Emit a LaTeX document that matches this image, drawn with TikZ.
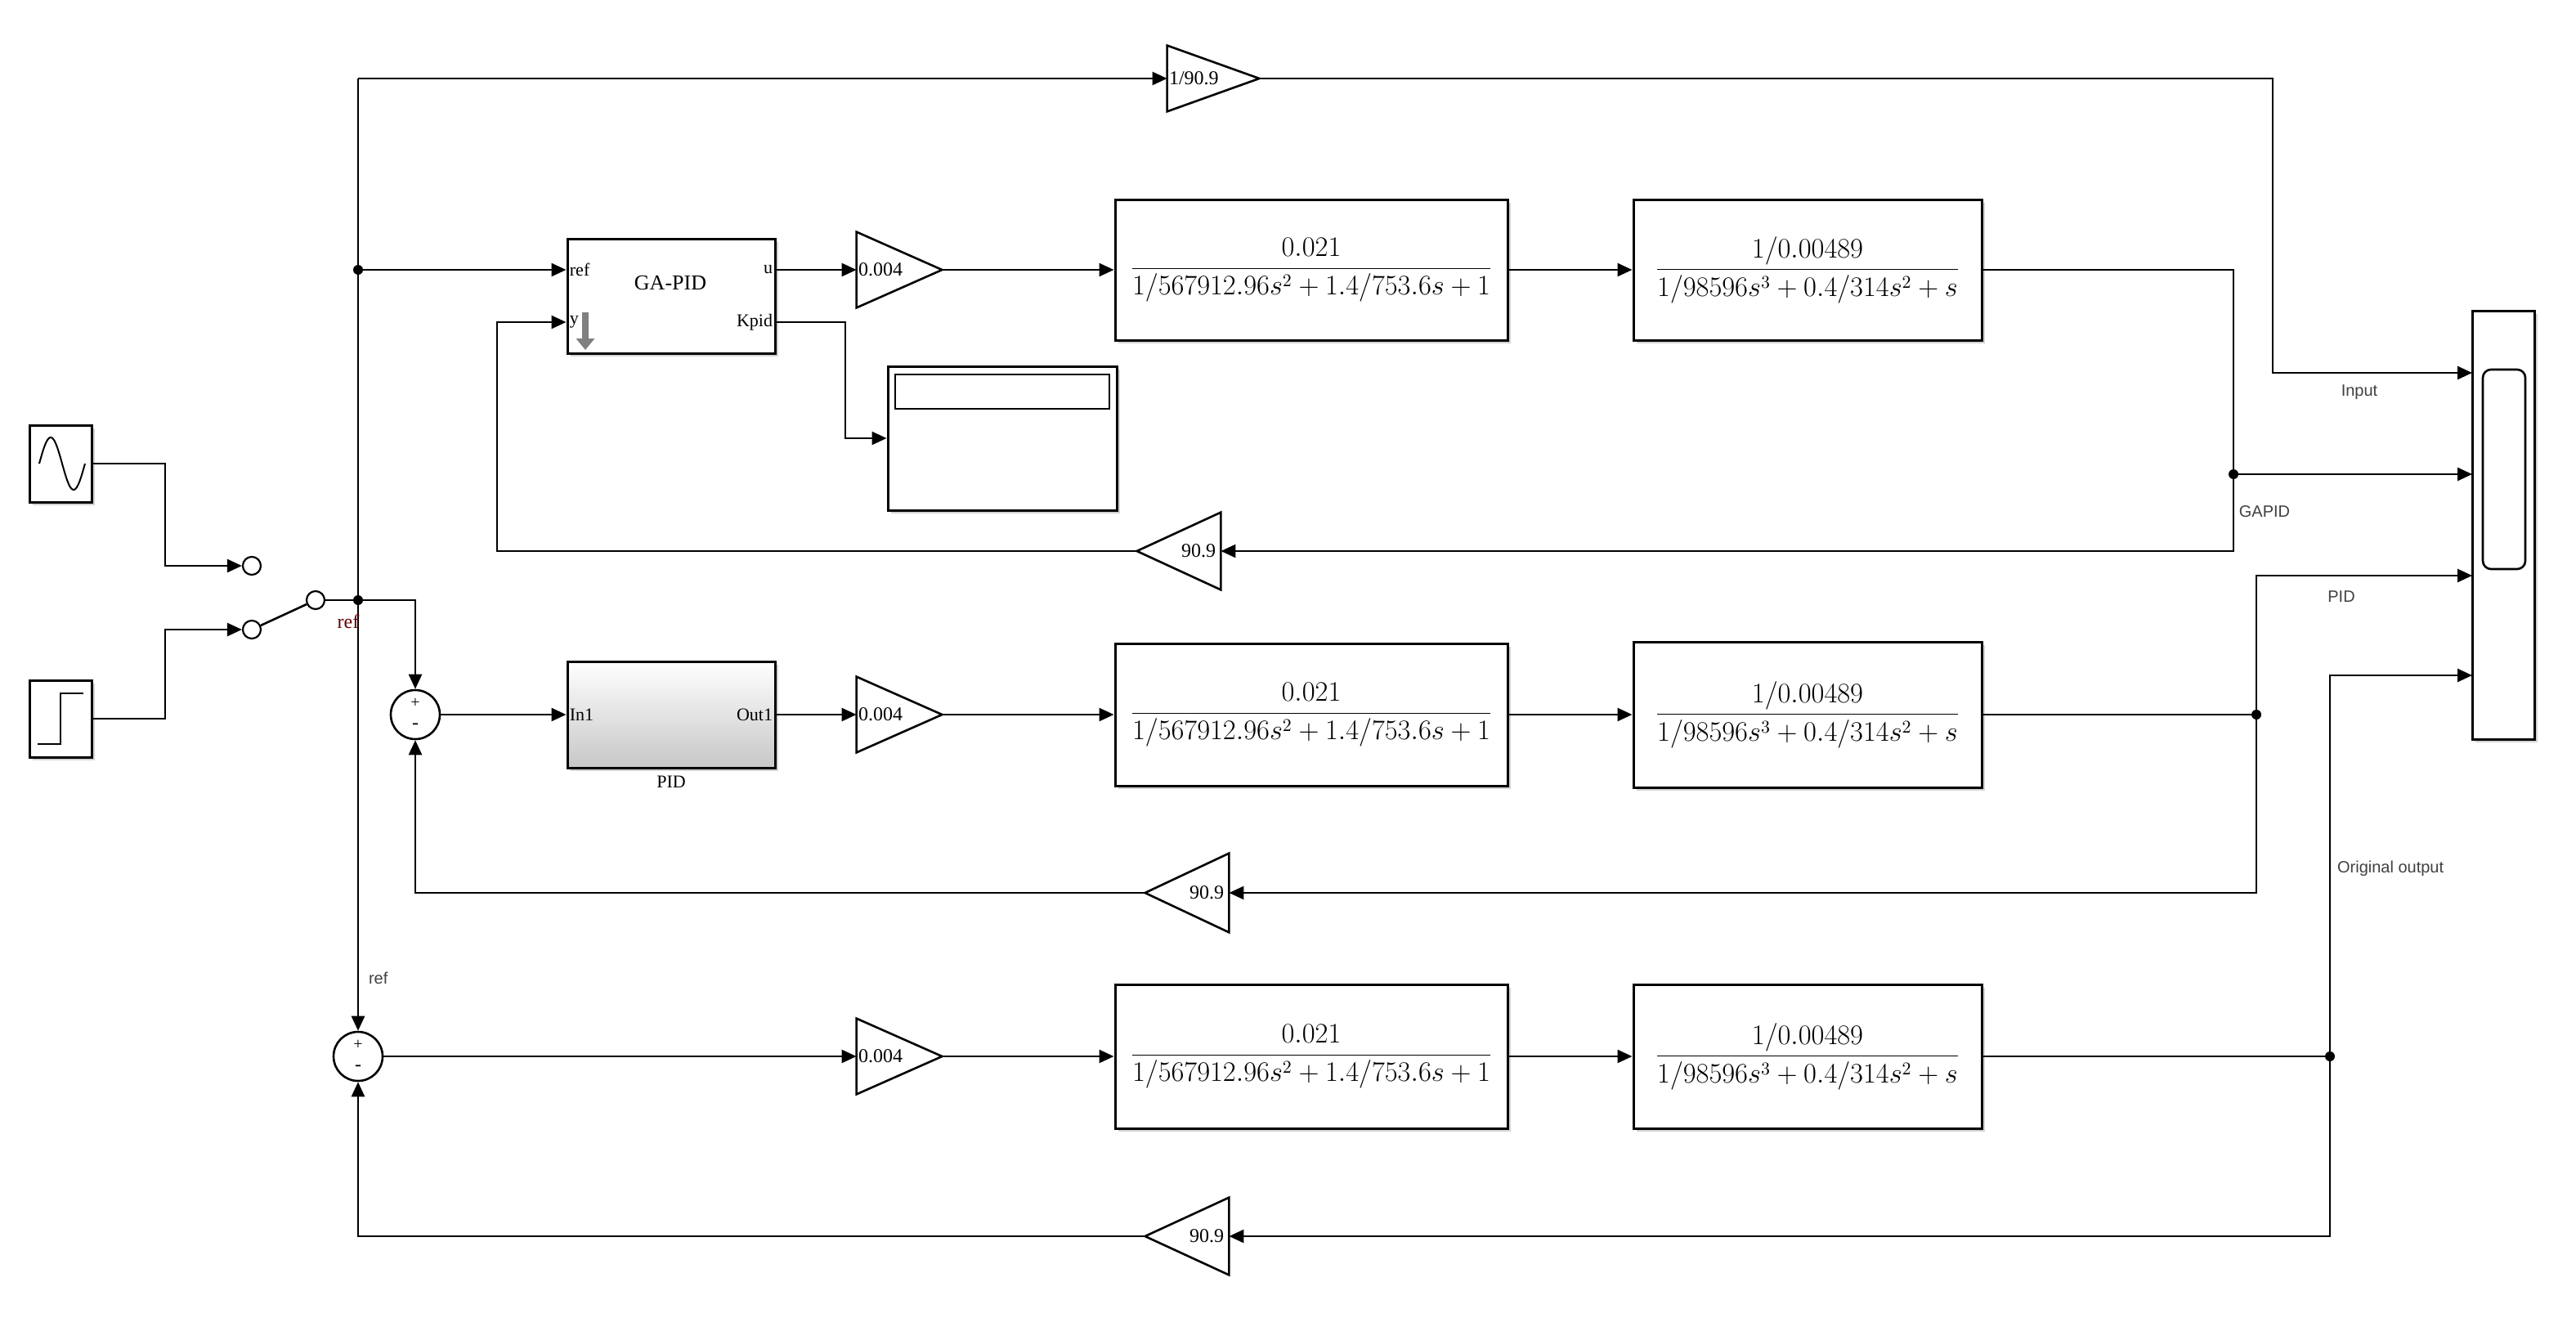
\documentclass[tikz,border=0pt]{standalone}
\usepackage{fontspec}
\setmainfont{Liberation Serif}
\newfontfamily\sansf{Liberation Sans}
\usetikzlibrary{arrows.meta,shadows}

\tikzset{
  sig/.style={line width=1.3pt,-{Triangle[length=9pt,width=8pt]}},
  wire/.style={line width=1.3pt},
  blk/.style={draw,line width=1.5pt,fill=white,inner sep=0pt,
    drop shadow={shadow xshift=2pt,shadow yshift=-2pt,opacity=0.35}},
  gainbox/.style={inner sep=0pt,minimum width=52pt,minimum height=46pt},
  sumc/.style={draw,line width=1.3pt,circle,minimum size=30pt,inner sep=0pt,fill=white},
  port/.style={circle,draw,line width=1.1pt,minimum size=11pt,inner sep=0pt,fill=white},
  dot/.style={circle,fill,inner sep=0pt,minimum size=6pt},
  lbl/.style={font=\sansf\fontsize{10}{12}\selectfont,text=black!75},
  tf/.style={blk,minimum width=240pt,minimum height=86pt,font=\fontsize{16}{18}\selectfont},
}

\newcommand{\gtf}{$\displaystyle\frac{0.021}{1/567912.96s^2+1.4/753.6s+1}$}
\newcommand{\ptf}{$\displaystyle\frac{1/0.00489}{1/98596s^3+0.4/314s^2+s}$}

\begin{document}
\begin{tikzpicture}[x=1pt,y=-1pt]
  \useasboundingbox (0,0) rectangle (1575.5,805.5);

  % sources and switch
  \node[blk,minimum width=38pt,minimum height=47pt] (sine) at (37,283.5) {};
  \draw[line width=1pt] plot[domain=0:1,samples=40] ({24+28*\x},{283.5-16*sin(360*\x)});
  \node[blk,minimum width=38pt,minimum height=47pt] (step) at (37,439.5) {};
  \draw[line width=1pt] (23,455) -- (37,455) -- (37,424) -- (51,424);
  \node[port] (c1) at (154,346) {};
  \node[port] (c2) at (154,385) {};
  \node[port] (c3) at (193,367) {};
  \coordinate (k5) at (101,346);
  \coordinate (k6) at (101,385);
  \draw[sig] (sine.east) -| (k5) -- (c1.west);
  \draw[sig] (step.east) -| (k6) -- (c2.west);
  \draw[wire] (c2) -- (c3);

  % bus
  \coordinate (bustop) at (219,48);
  \node[dot] (j1) at (219,165) {};
  \node[dot] (jsw) at (219,367) {};
  \node[sumc] (sum2) at (254,437) {};
  \node[sumc] (sum3) at (219,646) {};
  \foreach \s in {sum2,sum3}{
    \node[font=\fontsize{10}{10}\selectfont] at ([yshift=7pt]\s.center) {+};
    \node[font=\fontsize{12}{12}\selectfont] at ([yshift=-7pt]\s.center) {-};
  }
  \draw[wire] (c3.east) -- (jsw);
  \draw[sig] (bustop) -- (sum3.north);
  \draw[sig] (jsw) -| (sum2.north);
  \node[font=\fontsize{12}{12}\selectfont,text=red!40!black] at (213,380) {ref};
  \node[lbl,anchor=west] at (222,598) {ref};

  % top gain
  \node[gainbox,minimum width=56pt,minimum height=40pt] (g0) at (742,48) {};
  \draw[line width=1.3pt,fill=white] (g0.north west) -- (g0.east) -- (g0.south west) -- cycle;
  \node[font=\fontsize{12}{12}\selectfont,anchor=west,inner sep=1pt] at (g0.west) {1/90.9};
  \draw[sig] (bustop) -- (g0.west);

  % scope
  \node[blk,minimum width=38pt,minimum height=262pt] (scope) at (1531,321) {};
  \node[draw,line width=1.3pt,rounded corners=5pt,minimum width=26pt,minimum height=122pt] (screen) at (1531.5,287) {};
  \coordinate (in1) at (1512,228);
  \coordinate (in2) at (1512,290);
  \coordinate (in3) at (1512,352);
  \coordinate (in4) at (1512,413);
  \coordinate (k1) at (1390,228);
  \draw[sig] (g0.east) -| (k1) -- (in1);
  \node[lbl] at (1443,240) {Input};
  \node[lbl] at (1385,313) {GAPID};
  \node[lbl] at (1432,365) {PID};
  \node[lbl,anchor=west] at (1426,531) {Original output};

  % GA-PID loop
  \node[blk,minimum width=127pt,minimum height=70pt] (gapid) at (410.5,181) {};
  \node[font=\fontsize{13}{14}\selectfont] at (410,173) {GA-PID};
  \node[font=\fontsize{11}{12}\selectfont,anchor=west,inner sep=2pt] at ([yshift=16pt]gapid.west) {ref};
  \node[font=\fontsize{11}{12}\selectfont,anchor=west,inner sep=2pt] at ([yshift=-16pt]gapid.west) {y};
  \draw[gray,line width=4pt,-{Triangle[length=7pt,width=11pt]}] (358,191) -- (358,214);
  \node[font=\fontsize{11}{12}\selectfont,anchor=east,inner sep=2pt] at ([yshift=16pt]gapid.east) {u};
  \node[font=\fontsize{11}{12}\selectfont,anchor=east,inner sep=2pt] at ([yshift=-16pt]gapid.east) {Kpid};
  \node[gainbox] (g1) at (550,165) {};
  \node[tf] (tf1a) at (802,165) {\gtf};
  \node[tf,minimum width=213pt] (tf1b) at (1105.5,165) {\ptf};
  \node[gainbox,minimum width=51pt,minimum height=47pt] (fb1) at (721,337) {};
  \node[blk,minimum width=140pt,minimum height=88pt] (disp) at (613,268) {};
  \node[draw,line width=1.1pt,minimum width=131pt,minimum height=21pt] (dispbar) at (613,239.5) {};
  \node[dot] (j2) at (1366,290) {};
  \coordinate (k2) at (304,197);
  \coordinate (k3) at (517,197);
  \draw[sig] (j1) -- ([yshift=16pt]gapid.west);
  \draw[sig] ([yshift=16pt]gapid.east) -- (g1.west);
  \draw[sig] (g1.east) -- (tf1a.west);
  \draw[sig] (tf1a) -- (tf1b);
  \draw[wire] (tf1b.east) -| (j2);
  \draw[sig] (j2) -- (in2);
  \draw[sig] (j2) |- (fb1.east);
  \draw[sig] (fb1.west) -| (k2) -- ([yshift=-16pt]gapid.west);
  \draw[sig] ([yshift=-16pt]gapid.east) -- (k3) |- (disp.west);

  % PID loop
  \node[draw,line width=1.5pt,top color=white,bottom color=black!22,minimum width=127pt,minimum height=65pt,
    drop shadow={shadow xshift=2pt,shadow yshift=-2pt,opacity=0.35}] (pid) at (410.5,437) {};
  \node[font=\fontsize{11}{12}\selectfont,anchor=west,inner sep=2pt] at (pid.west) {In1};
  \node[font=\fontsize{11}{12}\selectfont,anchor=east,inner sep=2pt] at (pid.east) {Out1};
  \node[font=\fontsize{11}{12}\selectfont,below=0pt] at (410.5,471) {PID};
  \node[gainbox] (g2) at (550,437) {};
  \node[tf,minimum height=87pt] (tf2a) at (802,437) {\gtf};
  \node[tf,minimum width=213pt,minimum height=89pt] (tf2b) at (1105.5,437) {\ptf};
  \node[gainbox,minimum width=51pt,minimum height=48pt] (fb2) at (726,546) {};
  \node[dot] (j3) at (1380,437) {};
  \draw[sig] (sum2) -- (pid.west);
  \draw[sig] (pid) -- (g2);
  \draw[sig] (g2.east) -- (tf2a.west);
  \draw[sig] (tf2a) -- (tf2b);
  \draw[wire] (tf2b.east) -- (j3);
  \draw[sig] (j3) |- (in3);
  \draw[sig] (j3) |- (fb2.east);
  \draw[sig] (fb2.west) -| (sum2.south);

  % original loop
  \node[gainbox] (g3) at (550,646) {};
  \node[tf,minimum height=88pt] (tf3a) at (802,646) {\gtf};
  \node[tf,minimum width=213pt,minimum height=88pt] (tf3b) at (1105.5,646) {\ptf};
  \node[gainbox,minimum width=51pt,minimum height=47pt] (fb3) at (726,756) {};
  \node[dot] (j4) at (1425,646) {};
  \draw[sig] (sum3) -- (g3);
  \draw[sig] (g3.east) -- (tf3a.west);
  \draw[sig] (tf3a) -- (tf3b);
  \draw[wire] (tf3b.east) -- (j4);
  \draw[sig] (j4) |- (in4);
  \draw[sig] (j4) |- (fb3.east);
  \draw[sig] (fb3.west) -| (sum3.south);

  % gain triangles
  \foreach \g in {g1,g2,g3}{
    \draw[line width=1.3pt,fill=white] (\g.north west) -- (\g.east) -- (\g.south west) -- cycle;
    \node[font=\fontsize{12}{12}\selectfont,anchor=west,inner sep=1pt] at (\g.west) {0.004};
  }
  \foreach \g in {fb1,fb2,fb3}{
    \draw[line width=1.3pt,fill=white] (\g.north east) -- (\g.west) -- (\g.south east) -- cycle;
    \node[font=\fontsize{12}{12}\selectfont,anchor=east,inner sep=3pt] at (\g.east) {90.9};
  }
\end{tikzpicture}
\end{document}
